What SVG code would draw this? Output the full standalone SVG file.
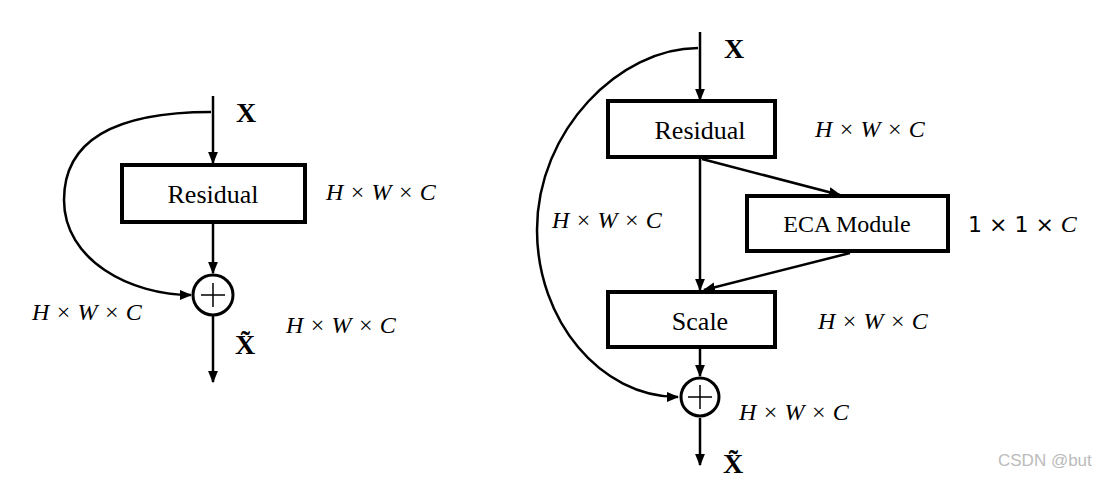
<svg xmlns="http://www.w3.org/2000/svg" width="1114" height="479" viewBox="0 0 1114 479">
<style>
.box{fill:#fff;stroke:#000;stroke-width:4}
.ln{fill:none;stroke:#000;stroke-width:2.5}
.t{font-family:"Liberation Serif","Times New Roman",serif;font-size:26px;fill:#000;text-anchor:middle}
.dim{font-family:"Liberation Serif","Times New Roman",serif;font-size:24px;font-style:italic;fill:#000}
.x{font-family:"Liberation Serif","Times New Roman",serif;font-size:28px;font-weight:bold;fill:#000}
</style>
<defs>
<marker id="a" viewBox="0 0 10 10" refX="9" refY="5" markerWidth="5" markerHeight="5" orient="auto" markerUnits="strokeWidth"><path d="M0,1 L10,5 L0,9 z" fill="#000"/></marker>
</defs>
<rect width="1114" height="479" fill="#fff"/>
<g id="connectors">
<path class="ln" d="M213,96 V163" marker-end="url(#a)"/>
<path class="ln" d="M213,224 V273" marker-end="url(#a)"/>
<path class="ln" d="M213,316 V382" marker-end="url(#a)"/>
<path class="ln" d="M211,112 C100,112 64,150 64,200 C64,260 130,295 191,295" marker-end="url(#a)"/>
<path class="ln" d="M700,32 V100" marker-end="url(#a)"/>
<path class="ln" d="M700,159 V290" marker-end="url(#a)"/>
<path class="ln" d="M702,159 L840,195" marker-end="url(#a)"/>
<path class="ln" d="M850,253 L704,290" marker-end="url(#a)"/>
<path class="ln" d="M700,349 V376" marker-end="url(#a)"/>
<path class="ln" d="M700,418 V465" marker-end="url(#a)"/>
<path class="ln" d="M698,48 C620,48 537,130 537,230 C537,320 600,397 678,397" marker-end="url(#a)"/>
</g>
<g id="residual1"><rect class="box" x="122" y="165" width="183" height="57"/><text class="t" x="213" y="203">Residual</text></g>
<g id="add1"><circle cx="213" cy="295" r="20" fill="#fff" stroke="#000" stroke-width="3"/><path d="M201,295 H225 M213,283 V307" stroke="#000" stroke-width="1.5"/></g>
<g id="residual2"><rect class="box" x="608" y="101" width="167" height="56"/><text class="t" x="700" y="139">Residual</text></g>
<g id="eca"><rect class="box" x="747" y="196" width="201" height="55"/><text class="t" x="847" y="232" style="font-size:24px">ECA Module</text></g>
<g id="scale"><rect class="box" x="608" y="292" width="167" height="55"/><text class="t" x="700" y="330">Scale</text></g>
<g id="add2"><circle cx="700" cy="397" r="19" fill="#fff" stroke="#000" stroke-width="3"/><path d="M688,397 H712 M700,385 V409" stroke="#000" stroke-width="1.5"/></g>
<g id="labels">
<text class="x" x="236" y="122">X</text>
<text class="x" x="235" y="354">X̃</text>
<text class="x" x="724" y="58">X</text>
<text class="x" x="723" y="473">X̃</text>
<text class="dim" x="326" y="200">H × W × C</text>
<text class="dim" x="32" y="320">H × W × C</text>
<text class="dim" x="286" y="333">H × W × C</text>
<text class="dim" x="815" y="137">H × W × C</text>
<text class="dim" x="552" y="228">H × W × C</text>
<text class="dim" x="968" y="232" style="font-style:normal;font-family:'DejaVu Sans',sans-serif;font-size:22px">1 × 1 × <tspan style="font-style:italic;font-family:'Liberation Serif',serif;font-size:24px">C</tspan></text>
<text class="dim" x="818" y="329">H × W × C</text>
<text class="dim" x="739" y="420">H × W × C</text>
<text x="998" y="466" font-family="Liberation Sans,sans-serif" font-size="17" fill="#bbb">CSDN @but</text>
</g>
</svg>
